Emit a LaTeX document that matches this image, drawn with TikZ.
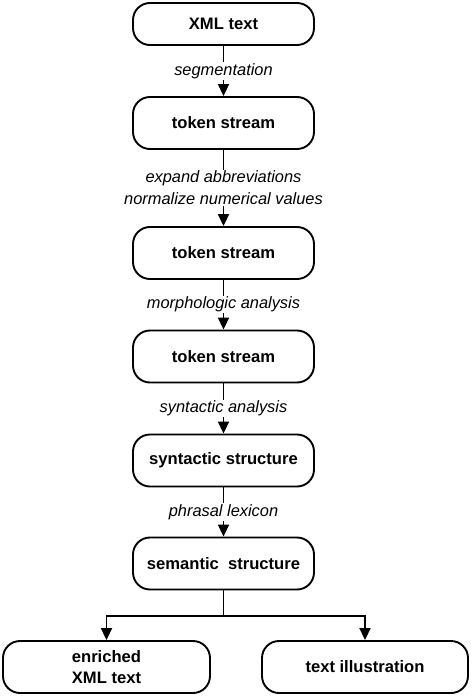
\documentclass[tikz,border=0pt]{standalone}
\usepackage{fontspec}
\setmainfont{Liberation Sans}
\usetikzlibrary{arrows.meta}
\begin{document}
\begin{tikzpicture}[x=1pt,y=-1pt]
% styles for boxes, labels and arrows
\tikzset{box/.style={draw, line width=1.9pt, rounded corners=17pt, minimum width=181pt,
    minimum height=52pt, align=center, font=\fontsize{16.6}{21}\selectfont\bfseries}}
\tikzset{steplabel/.style={fill=white, inner sep=1pt, align=center,
    font=\fontsize{16.4}{22}\selectfont\itshape}}
\tikzset{flow/.style={line width=1.9pt, -{Triangle[width=11pt,length=12pt]}}}
\useasboundingbox (0,0) rectangle (474,696);
% the boxes
\node[box, minimum height=42pt] (xml) at (223.5,24) {XML text};
\node[box] (tokA) at (223.5,123) {token stream};
\node[box] (tokB) at (223.5,253) {token stream};
\node[box] (tokC) at (223.5,356.5) {token stream};
\node[box] (syn) at (223.5,460.5) {syntactic structure};
\node[box] (sem) at (223.5,563.5) {semantic~ structure};
\node[box, minimum width=207pt] (enr) at (106.5,667) {enriched\\XML text};
\node[box, minimum width=206pt] (ill) at (365,667) {text illustration};
% the arrows with their labels
\draw[flow] (xml) -- (tokA) node[midway, steplabel] {segmentation};
\draw[flow] (tokA) -- (tokB) node[midway, steplabel] {expand abbreviations\\normalize numerical values};
\draw[flow] (tokB) -- (tokC) node[midway, steplabel] {morphologic analysis};
\draw[flow] (tokC) -- (syn) node[midway, steplabel] {syntactic analysis};
\draw[flow] (syn) -- (sem) node[midway, steplabel] {phrasal lexicon};
% the split at the bottom
\coordinate (split) at (223.5,616);
\draw[line width=1.9pt] (sem) -- (split);
\draw[flow] (split) -| (enr);
\draw[flow] (split) -| (ill);
\end{tikzpicture}
\end{document}
